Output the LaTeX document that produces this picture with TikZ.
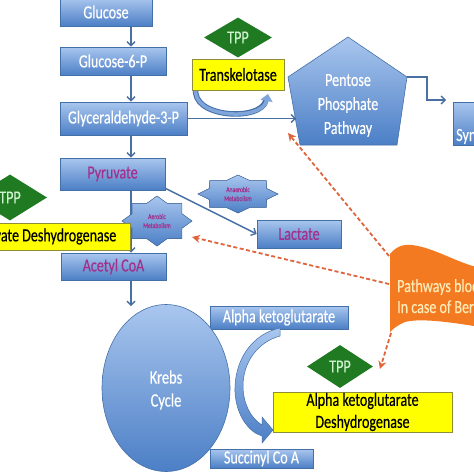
\documentclass[tikz,border=0pt]{standalone}
\usepackage{fontspec}
\setmainfont{Carlito}[FakeStretch=0.76,FakeBold=0.4]
\usetikzlibrary{shapes.geometric,arrows.meta,calc}
\definecolor{btop}{HTML}{A9C6EE}
\definecolor{bbot}{HTML}{4C7FC6}
\definecolor{bborder}{HTML}{4470A8}
\definecolor{yfill}{HTML}{FFFF00}
\definecolor{yborder}{HTML}{8E8E3A}
\definecolor{tppgreen}{HTML}{1F7A22}
\definecolor{tpptext}{HTML}{CFF2CF}
\definecolor{purp}{HTML}{A2308C}
\definecolor{arrblue}{HTML}{4A6FA2}
\definecolor{redash}{HTML}{E0643C}
\definecolor{orng}{HTML}{F47A22}
\definecolor{orngtext}{HTML}{FFEBB5}
\definecolor{loopblue}{HTML}{7FA5DA}
\newcommand\mybig{\fontsize{18.5}{20}\selectfont}
\newcommand\mytiny{\fontsize{7.5}{9}\selectfont}
\begin{document}
\begin{tikzpicture}[x=1pt,y=-1pt,
  blbox/.style={draw=bborder, line width=0.6pt, top color=btop, bottom color=bbot, text=white, font=\mybig, inner sep=0pt},
  ylbox/.style={draw=yborder, line width=0.8pt, fill=yfill, text=black, font=\mybig, inner sep=0pt},
  tpp/.style={diamond, fill=tppgreen, text=tpptext, font=\mybig, inner sep=0pt},
  flow/.style={draw=arrblue, line width=1.4pt, -{Straight Barb[length=4pt,width=8pt]}},
  block/.style={draw=redash, line width=1.8pt, dash pattern=on 4pt off 2.5pt, -{Stealth[length=8pt,width=8pt]}},
  starshade/.style={draw=bborder, line width=0.5pt, top color=btop, bottom color=bbot},
  startext/.style={text=purp, font=\mytiny, align=center, inner sep=0pt}]
\useasboundingbox (0,0) rectangle (474,474);
\clip (0,0) rectangle (474,474);
\fill[white] (0,0) rectangle (474,474);
\coordinate (axis) at (131,0);
% blue boxes
\node[blbox, minimum width=92pt, minimum height=28pt] (glucose) at (106,12) {Glucose};
\node[blbox, minimum width=106pt, minimum height=28pt] (g6p) at (113,61) {Glucose-6-P};
\node[blbox, minimum width=127pt, minimum height=33pt] (g3p) at (123.5,118.5) {Glyceraldehyde-3-P};
\node[blbox, minimum width=105pt, minimum height=32pt, text=purp] (pyr) at (112.5,174) {Pyruvate};
\node[blbox, minimum width=105pt, minimum height=27pt, text=purp] (acoa) at (113.5,266.5) {Acetyl CoA};
\node[blbox, minimum width=84pt, minimum height=28pt, text=purp] (lact) at (299,234) {Lactate};
\node[blbox, minimum width=138pt, minimum height=23pt] (akg) at (279,317.5) {Alpha ketoglutarate};
\node[blbox, minimum width=103pt, minimum height=19pt] (succ) at (261.5,458.5) {Succinyl Co A};
\node[blbox, minimum width=54pt, minimum height=43pt] (sy) at (480,123.5) {};
\node[text=white, font=\mybig, anchor=base west, inner sep=0pt] (sytext) at (456,141) {Synthesis};
% Krebs ellipse
\node[ellipse, draw=bborder, line width=0.6pt, top color=btop, bottom color=bbot, minimum width=128pt, minimum height=167pt, inner sep=0pt] (krebs) at (166,388) {};
\node[text=white, font=\fontsize{19}{23}\selectfont, align=center] (krebstext) at (166,390) {Krebs\\Cycle};
% Pentose pentagon
\coordinate (pt) at (348,37);
\coordinate (pr) at (407,77);
\coordinate (pbr) at (397,145);
\coordinate (pbl) at (300,145);
\coordinate (pl) at (288,77);
\path[draw=bborder, line width=0.6pt, top color=btop, bottom color=bbot] (pt) -- (pr) -- (pbr) -- (pbl) -- (pl) -- cycle;
\node[text=white, font=\fontsize{18.5}{24}\selectfont, align=center] (ppp) at (348,105.5) {Pentose\\Phosphate\\Pathway};
\coordinate (ppin) at (296,118.5);
\coordinate (syin) at (446,100);
\coordinate (kin) at (131,306);
% blue flow arrows
\draw[flow] (glucose.south -| axis) -- (g6p.north -| axis);
\draw[flow] (g6p.south -| axis) -- (g3p.north -| axis);
\draw[flow] (g3p.south -| axis) -- (pyr.north -| axis);
\draw[flow] (pyr.south -| axis) -- (acoa.north -| axis);
\draw[flow] (acoa.south -| axis) -- (kin);
\draw[flow] ([yshift=2pt]pyr.south east) -- (lact.west);
\draw[flow] (g3p.east) -- (ppin);
\draw[flow] (pr) -- ++(20,0) |- (syin);
% curved block arrows
\draw[bborder, line width=5.5pt] (196,88) .. controls (190,118) and (262,122) .. (266,100);
\draw[loopblue, line width=3.5pt, -{Triangle[length=7pt,width=12pt]}] (196,88) .. controls (190,118) and (262,122) .. (268,94);
\path[draw=bborder, line width=0.5pt, top color=btop, bottom color=bbot]
  (280,328) .. controls (252,334) and (234,360) .. (235,392)
  .. controls (236,414) and (248,432) .. (262,436)
  -- (262,443) -- (273,430) -- (262,417) -- (262,425)
  .. controls (250,418) and (243,402) .. (243,386)
  .. controls (243,362) and (258,342) .. (280,336) -- cycle;
% stars
\fill[starshade] plot[samples at={0,...,15}, variable=\k] ({157+(mod(\k,2)==0 ? 35 : 27)*cos(\k*22.5)}, {221+(mod(\k,2)==0 ? 25 : 19)*sin(\k*22.5)}) -- cycle;
\node[startext] (aero) at (157,221) {Aerobic\\Metabolism};
\fill[starshade] plot[samples at={0,...,15}, variable=\k] ({238+(mod(\k,2)==0 ? 40 : 31)*cos(\k*22.5)}, {194+(mod(\k,2)==0 ? 19 : 14.5)*sin(\k*22.5)}) -- cycle;
\node[startext] (anaero) at (238,194) {Anaerobic\\Metabolism};
% yellow enzyme boxes and TPP
\node[ylbox, minimum width=92pt, minimum height=31pt] (tk) at (238,74.5) {Transkelotase};
\node[ylbox, minimum width=175pt, minimum height=27pt] (pdh) at (42.5,236.5) {Pyruvate Deshydrogenase};
\node[ylbox, minimum width=179pt, minimum height=40pt, align=center, font=\fontsize{18.5}{22}\selectfont] (akgdh) at (362.5,412) {Alpha ketoglutarate\\Deshydrogenase};
\node[tpp, minimum width=68pt, minimum height=40pt] (tpp1) at (238,37.5) {TPP};
\node[tpp, minimum width=74pt, minimum height=46pt] (tpp2) at (10,197.5) {TPP};
\node[tpp, minimum width=66pt, minimum height=43pt] (tpp3) at (340,366.5) {TPP};
% orange callout
\fill[orng] (390,254) .. controls (396,247) and (402,244) .. (412,245)
  .. controls (435,248) and (455,262) .. (480,268) -- (480,327)
  .. controls (450,322) and (420,318) .. (405,322)
  .. controls (398,325) and (394,328) .. (390,332) -- cycle;
\node[text=orngtext, font=\mybig, anchor=base west, inner sep=0pt] (blk1) at (397,292) {Pathways blocked};
\node[text=orngtext, font=\mybig, anchor=base west, inner sep=0pt] (blk2) at (397,313) {In case of Beriberi};
\coordinate (o1) at (389,256);
\coordinate (o2) at (389,284);
\coordinate (o3) at (391,333);
\coordinate (t1) at (288,133);
\coordinate (t2) at (192,237);
\coordinate (t3) at (380,369);
\draw[block] (o1) -- (t1);
\draw[block] (o2) -- (t2);
\draw[block] (o3) -- (t3);
\end{tikzpicture}
\end{document}
